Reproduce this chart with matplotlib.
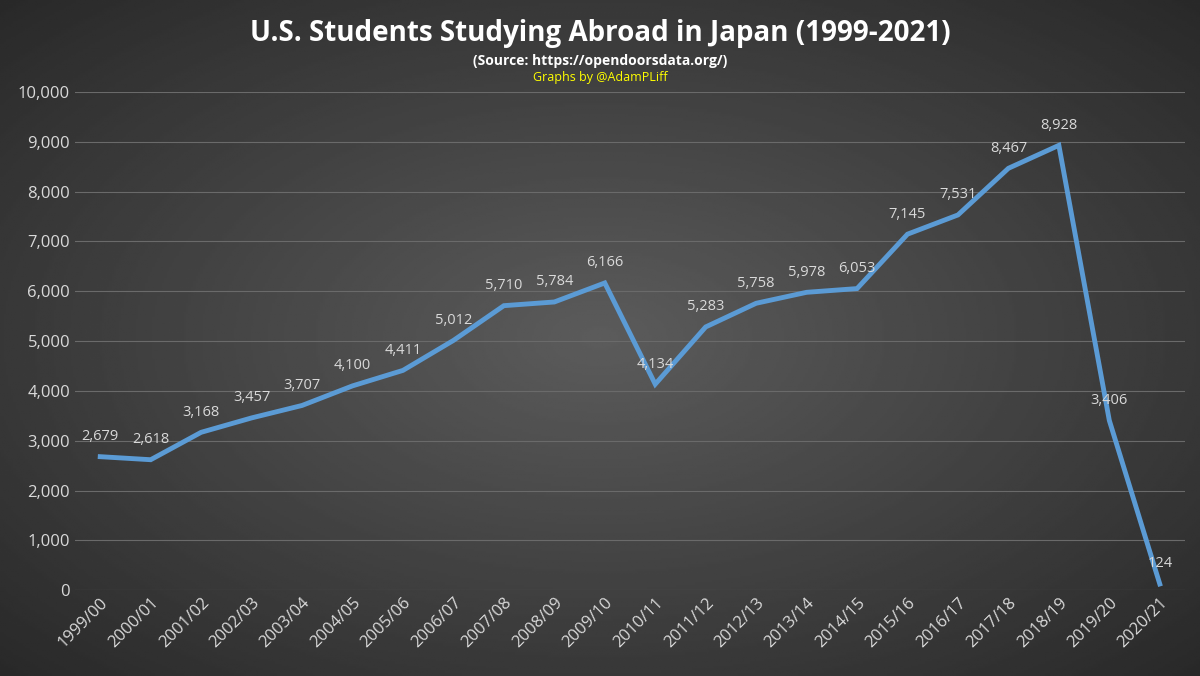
import matplotlib
matplotlib.use("Agg")
import matplotlib.pyplot as plt
import numpy as np

years = ["1999/00", "2000/01", "2001/02", "2002/03", "2003/04", "2004/05", "2005/06",
         "2006/07", "2007/08", "2008/09", "2009/10", "2010/11", "2011/12", "2012/13",
         "2013/14", "2014/15", "2015/16", "2016/17", "2017/18", "2018/19", "2019/20", "2020/21"]
students = [2679, 2618, 3168, 3457, 3707, 4100, 4411, 5012, 5710, 5784, 6166, 4134,
            5283, 5758, 5978, 6053, 7145, 7531, 8467, 8928, 3406, 124]

plt.rcParams["font.family"] = ["Open Sans", "DejaVu Sans"]
TXT = "#d9d9d9"

fig = plt.figure(figsize=(12, 6.76), dpi=100)

# radial gradient background
bg = fig.add_axes([0, 0, 1, 1], zorder=0)
yy, xx = np.mgrid[-1:1:300j, -1:1:500j]
r = np.sqrt(xx ** 2 + yy ** 2) / np.sqrt(2)
bg.imshow(0.36 - 0.2 * r, cmap="gray", vmin=0, vmax=1, aspect="auto", extent=[0, 1, 0, 1])
bg.axis("off")

ax = fig.add_axes([0.0625, 0.127, 0.925, 0.737], zorder=1)
ax.patch.set_alpha(0)
x = np.arange(len(years))
ax.plot(x, students, color="#5b9bd5", lw=3.5, solid_joinstyle="miter")
for xi, v in zip(x, students):
    ax.annotate(f"{v:,}", (xi, v), xytext=(0, 9), textcoords="offset points",
                ha="center", va="bottom", color=TXT, fontsize=10.5)

ax.set_xlim(-0.5, len(years) - 0.5)
ax.set_ylim(0, 10000)
ax.set_yticks(range(0, 10001, 1000))
ax.set_yticklabels([f"{t:,}" for t in range(0, 10001, 1000)])
ax.set_xticks(x)
ax.set_xticklabels(years, rotation=45, ha="right", rotation_mode="anchor")
ax.tick_params(colors=TXT, labelsize=12, length=0)
ax.grid(axis="y", color="#6a6a6a", lw=0.8)
ax.set_axisbelow(True)
for s in ax.spines.values():
    s.set_visible(False)

fig.text(0.5, 0.95, "U.S. Students Studying Abroad in Japan (1999-2021)", ha="center",
         va="center", color="white", fontsize=20, fontweight="bold")
fig.text(0.5, 0.91, "(Source: https://opendoorsdata.org/)", ha="center", va="center",
         color="white", fontsize=10, fontweight="bold")
fig.text(0.5, 0.885, "Graphs by @AdamPLiff", ha="center", va="center",
         color="#ffff00", fontsize=9)

fig.savefig("out.png", dpi=100)
